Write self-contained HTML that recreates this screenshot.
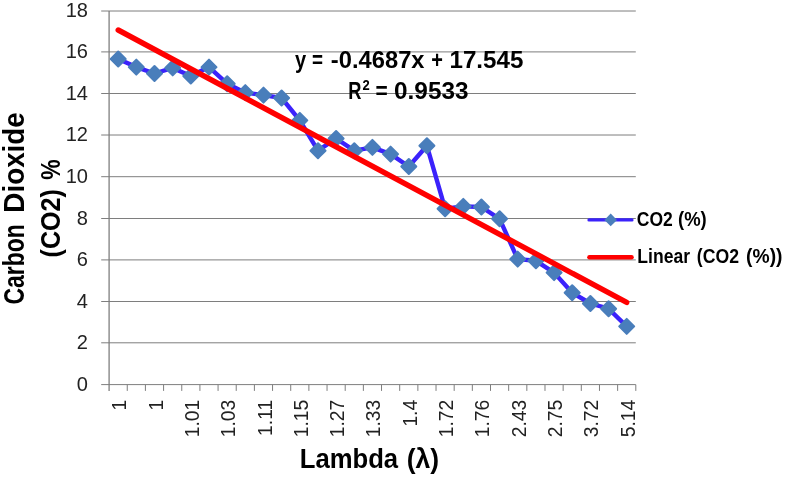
<!DOCTYPE html>
<html><head><meta charset="utf-8"><title>chart</title>
<style>
html,body{margin:0;padding:0;background:#fff;}
body{width:785px;height:477px;overflow:hidden;}
svg{display:block;}
text{font-family:"Liberation Sans",sans-serif;}
.b{font-weight:bold;}
</style></head><body>
<svg width="785" height="477" viewBox="0 0 785 477">
<defs><filter id="bl" x="-5%" y="-5%" width="110%" height="110%"><feGaussianBlur stdDeviation="0.45"/></filter><filter id="bg" filterUnits="userSpaceOnUse" x="0" y="0" width="785" height="477"><feGaussianBlur stdDeviation="0.55"/></filter></defs>
<rect width="785" height="477" fill="#fff"/>
<g filter="url(#bl)">

<g stroke="#7e7e7e" stroke-width="1" fill="none" filter="url(#bg)">
<line x1="101.2" y1="384.60" x2="635.8" y2="384.60"/>
<line x1="101.2" y1="342.80" x2="635.8" y2="342.80"/>
<line x1="101.2" y1="301.50" x2="635.8" y2="301.50"/>
<line x1="101.2" y1="259.90" x2="635.8" y2="259.90"/>
<line x1="101.2" y1="218.50" x2="635.8" y2="218.50"/>
<line x1="101.2" y1="176.70" x2="635.8" y2="176.70"/>
<line x1="101.2" y1="135.00" x2="635.8" y2="135.00"/>
<line x1="101.2" y1="93.50" x2="635.8" y2="93.50"/>
<line x1="101.2" y1="51.90" x2="635.8" y2="51.90"/>
<line x1="101.2" y1="11.00" x2="635.8" y2="11.00"/>
<line x1="109.1" y1="11.00" x2="109.1" y2="390.90" stroke-width="1.3"/>
<line x1="127.26" y1="384.60" x2="127.26" y2="390.90"/>
<line x1="145.42" y1="384.60" x2="145.42" y2="390.90"/>
<line x1="163.59" y1="384.60" x2="163.59" y2="390.90"/>
<line x1="181.75" y1="384.60" x2="181.75" y2="390.90"/>
<line x1="199.91" y1="384.60" x2="199.91" y2="390.90"/>
<line x1="218.07" y1="384.60" x2="218.07" y2="390.90"/>
<line x1="236.23" y1="384.60" x2="236.23" y2="390.90"/>
<line x1="254.40" y1="384.60" x2="254.40" y2="390.90"/>
<line x1="272.56" y1="384.60" x2="272.56" y2="390.90"/>
<line x1="290.72" y1="384.60" x2="290.72" y2="390.90"/>
<line x1="308.88" y1="384.60" x2="308.88" y2="390.90"/>
<line x1="327.04" y1="384.60" x2="327.04" y2="390.90"/>
<line x1="345.21" y1="384.60" x2="345.21" y2="390.90"/>
<line x1="363.37" y1="384.60" x2="363.37" y2="390.90"/>
<line x1="381.53" y1="384.60" x2="381.53" y2="390.90"/>
<line x1="399.69" y1="384.60" x2="399.69" y2="390.90"/>
<line x1="417.86" y1="384.60" x2="417.86" y2="390.90"/>
<line x1="436.02" y1="384.60" x2="436.02" y2="390.90"/>
<line x1="454.18" y1="384.60" x2="454.18" y2="390.90"/>
<line x1="472.34" y1="384.60" x2="472.34" y2="390.90"/>
<line x1="490.50" y1="384.60" x2="490.50" y2="390.90"/>
<line x1="508.67" y1="384.60" x2="508.67" y2="390.90"/>
<line x1="526.83" y1="384.60" x2="526.83" y2="390.90"/>
<line x1="544.99" y1="384.60" x2="544.99" y2="390.90"/>
<line x1="563.15" y1="384.60" x2="563.15" y2="390.90"/>
<line x1="581.31" y1="384.60" x2="581.31" y2="390.90"/>
<line x1="599.48" y1="384.60" x2="599.48" y2="390.90"/>
<line x1="617.64" y1="384.60" x2="617.64" y2="390.90"/>
<line x1="635.80" y1="384.60" x2="635.80" y2="390.90"/>
</g>
<g font-size="19.3" fill="#222" text-anchor="end">
<text transform="translate(88.0,390.8) scale(1.04,1)">0</text>
<text transform="translate(88.0,349.0) scale(1.04,1)">2</text>
<text transform="translate(88.0,307.7) scale(1.04,1)">4</text>
<text transform="translate(88.0,266.1) scale(1.04,1)">6</text>
<text transform="translate(88.0,224.7) scale(1.04,1)">8</text>
<text transform="translate(88.0,182.9) scale(1.04,1)">10</text>
<text transform="translate(88.0,141.2) scale(1.04,1)">12</text>
<text transform="translate(88.0,99.7) scale(1.04,1)">14</text>
<text transform="translate(88.0,58.1) scale(1.04,1)">16</text>
<text transform="translate(88.0,17.2) scale(1.04,1)">18</text>
</g>
<g font-size="19.3" fill="#222" text-anchor="end">
<text transform="translate(126.2,399.8) rotate(-90)">1</text>
<text transform="translate(162.5,399.8) rotate(-90)">1</text>
<text transform="translate(198.8,399.8) rotate(-90)">1.01</text>
<text transform="translate(235.2,399.8) rotate(-90)">1.03</text>
<text transform="translate(271.5,399.8) rotate(-90)">1.11</text>
<text transform="translate(307.8,399.8) rotate(-90)">1.15</text>
<text transform="translate(344.1,399.8) rotate(-90)">1.27</text>
<text transform="translate(380.4,399.8) rotate(-90)">1.33</text>
<text transform="translate(416.8,399.8) rotate(-90)">1.4</text>
<text transform="translate(453.1,399.8) rotate(-90)">1.72</text>
<text transform="translate(489.4,399.8) rotate(-90)">1.76</text>
<text transform="translate(525.7,399.8) rotate(-90)">2.43</text>
<text transform="translate(562.1,399.8) rotate(-90)">2.75</text>
<text transform="translate(598.4,399.8) rotate(-90)">3.72</text>
<text transform="translate(634.7,399.8) rotate(-90)">5.14</text>
</g>
<polyline points="118.2,59.0 136.3,67.1 154.5,73.5 172.7,67.9 190.8,76.0 209.0,67.1 227.2,83.7 245.3,92.6 263.5,95.1 281.6,98.0 299.8,120.4 318.0,150.7 336.1,138.5 354.3,150.7 372.4,147.4 390.6,154.1 408.8,166.5 426.9,145.8 445.1,208.7 463.3,206.4 481.4,207.0 499.6,218.8 517.7,259.1 535.9,260.8 554.1,272.6 572.2,292.7 590.4,303.5 608.6,308.7 626.7,326.4" fill="none" stroke="#3a22fb" stroke-width="4.4" stroke-linejoin="round" stroke-linecap="round"/>
<g fill="#4a7ebb" stroke="#4a7ebb" stroke-width="2" stroke-linejoin="round">
<path d="M118.2 51.5L125.7 59.0L118.2 66.5L110.7 59.0Z"/>
<path d="M136.3 59.6L143.8 67.1L136.3 74.6L128.8 67.1Z"/>
<path d="M154.5 66.0L162.0 73.5L154.5 81.0L147.0 73.5Z"/>
<path d="M172.7 60.4L180.2 67.9L172.7 75.4L165.2 67.9Z"/>
<path d="M190.8 68.5L198.3 76.0L190.8 83.5L183.3 76.0Z"/>
<path d="M209.0 59.6L216.5 67.1L209.0 74.6L201.5 67.1Z"/>
<path d="M227.2 76.2L234.7 83.7L227.2 91.2L219.7 83.7Z"/>
<path d="M245.3 85.1L252.8 92.6L245.3 100.1L237.8 92.6Z"/>
<path d="M263.5 87.6L271.0 95.1L263.5 102.6L256.0 95.1Z"/>
<path d="M281.6 90.5L289.1 98.0L281.6 105.5L274.1 98.0Z"/>
<path d="M299.8 112.9L307.3 120.4L299.8 127.9L292.3 120.4Z"/>
<path d="M318.0 143.2L325.5 150.7L318.0 158.2L310.5 150.7Z"/>
<path d="M336.1 131.0L343.6 138.5L336.1 146.0L328.6 138.5Z"/>
<path d="M354.3 143.2L361.8 150.7L354.3 158.2L346.8 150.7Z"/>
<path d="M372.4 139.9L379.9 147.4L372.4 154.9L364.9 147.4Z"/>
<path d="M390.6 146.6L398.1 154.1L390.6 161.6L383.1 154.1Z"/>
<path d="M408.8 159.0L416.3 166.5L408.8 174.0L401.3 166.5Z"/>
<path d="M426.9 138.3L434.4 145.8L426.9 153.3L419.4 145.8Z"/>
<path d="M445.1 201.2L452.6 208.7L445.1 216.2L437.6 208.7Z"/>
<path d="M463.3 198.9L470.8 206.4L463.3 213.9L455.8 206.4Z"/>
<path d="M481.4 199.5L488.9 207.0L481.4 214.5L473.9 207.0Z"/>
<path d="M499.6 211.3L507.1 218.8L499.6 226.3L492.1 218.8Z"/>
<path d="M517.7 251.6L525.2 259.1L517.7 266.6L510.2 259.1Z"/>
<path d="M535.9 253.3L543.4 260.8L535.9 268.3L528.4 260.8Z"/>
<path d="M554.1 265.1L561.6 272.6L554.1 280.1L546.6 272.6Z"/>
<path d="M572.2 285.2L579.7 292.7L572.2 300.2L564.7 292.7Z"/>
<path d="M590.4 296.0L597.9 303.5L590.4 311.0L582.9 303.5Z"/>
<path d="M608.6 301.2L616.1 308.7L608.6 316.2L601.1 308.7Z"/>
<path d="M626.7 318.9L634.2 326.4L626.7 333.9L619.2 326.4Z"/>
</g>
<line x1="118.2" y1="30.0" x2="626.7" y2="302.4" stroke="#ff0000" stroke-width="5.4" stroke-linecap="round"/>
<line x1="589" y1="219.9" x2="632" y2="219.9" stroke="#3a22fb" stroke-width="3.2" stroke-linecap="round"/>
<path d="M610.7 213.6L617.0 219.9L610.7 226.2L604.4 219.9Z" fill="#4a7ebb"/>
<line x1="589.5" y1="257.2" x2="631.5" y2="257.2" stroke="#ff0000" stroke-width="4.6" stroke-linecap="round"/>
<g class="b" fill="#000">
<text font-size="24.0" transform="translate(295.00,67.5) scale(0.8370,1)">y</text>
<text font-size="24.0" transform="translate(311.91,67.5) scale(0.7838,1)">=</text>
<text font-size="24.0" transform="translate(330.86,67.5) scale(0.9889,1)">-0.4687x</text>
<text font-size="24.0" transform="translate(431.28,67.5) scale(0.8323,1)">+</text>
<text font-size="24.0" transform="translate(449.49,67.5) scale(1.0069,1)">17.545</text>
<text font-size="23.0" transform="translate(348.16,98.6) scale(0.7941,1)">R</text>
<text font-size="15.5" transform="translate(362.49,89.9) scale(0.8387,1)">2</text>
<text font-size="23.0" transform="translate(375.45,98.6) scale(0.9107,1)">=</text>
<text font-size="23.0" transform="translate(394.04,98.6) scale(1.0600,1)">0.9533</text>
<text font-size="20.3" transform="translate(636.75,226.3) scale(0.8621,1)">CO2</text>
<text font-size="20.3" transform="translate(678.03,226.3) scale(0.9102,1)">(%)</text>
<text font-size="20.3" transform="translate(637.30,263.2) scale(0.8659,1)">Linear</text>
<text font-size="20.3" transform="translate(696.87,263.2) scale(0.8694,1)">(CO2</text>
<text font-size="20.3" transform="translate(746.10,263.2) scale(0.9497,1)">(%))</text>
<text font-size="27.3" transform="translate(299.70,468.3) scale(0.9405,1)">Lambda</text>
<text font-size="27.3" transform="translate(406.76,468.3) scale(0.9711,1)">(λ)</text>
<text font-size="29.3" transform="translate(23.8,304.52) rotate(-90) scale(0.7843,1)">Carbon</text>
<text font-size="29.3" transform="translate(23.8,212.64) rotate(-90) scale(0.9490,1)">Dioxide</text>
<text font-size="28.0" transform="translate(59.8,257.38) rotate(-90) scale(0.8958,1)">(CO2)</text>
<text font-size="28.0" transform="translate(59.8,179.76) rotate(-90) scale(0.8229,1)">%</text>
</g>
</g></svg></body></html>
